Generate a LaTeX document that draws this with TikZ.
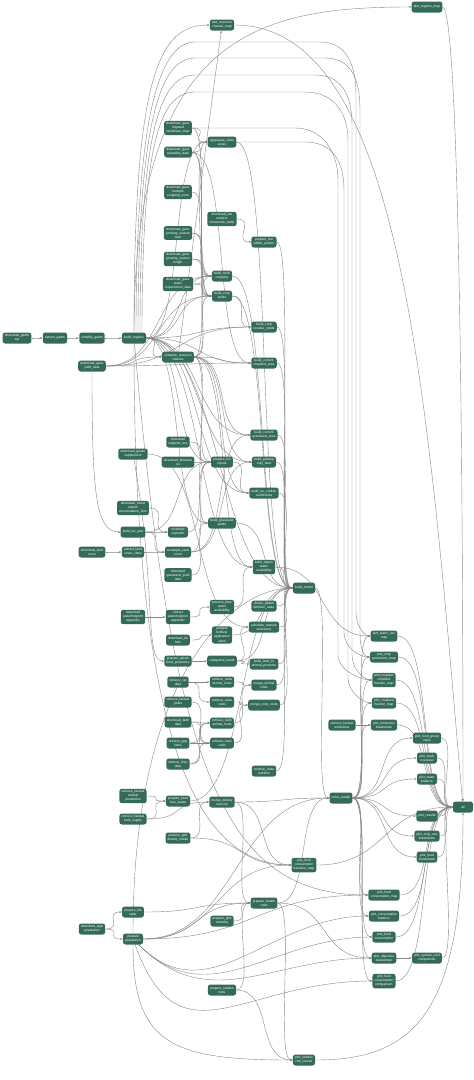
\documentclass[tikz,border=0pt]{standalone}
\usepackage{fontspec}
\setmainfont{Liberation Sans}
\usetikzlibrary{arrows.meta,calc}
\definecolor{ng}{RGB}{52,107,88}
\definecolor{eg}{RGB}{135,135,135}
\pgfdeclarelayer{bg}
\pgfsetlayers{bg,main}
\begin{document}
\begin{tikzpicture}[x=1pt,y=1pt,
  r/.style={rectangle, rounded corners=2.5pt, fill=ng, text=white, font=\fontsize{3.3}{4.1}\selectfont, align=center, inner xsep=2.2pt, inner ysep=1.6pt, minimum height=11pt, minimum width=20pt},
  e/.style={draw=eg, line width=0.4pt, -{Stealth[length=2.6pt,width=2pt]}}]
\useasboundingbox (0,0) rectangle (474,-1080);
\node[r] (A) at (17,-338) {download\_gadm\\zip};
\node[r] (B) at (55,-338) {extract\_gadm};
\node[r] (C) at (92,-338) {simplify\_gadm};
\node[r] (D) at (134,-338) {build\_regions};
\node[r] (E) at (92,-366) {download\_gaez\\yield\_data};
\node[r] (F) at (178,-357) {compute\_resource\\classes};
\node[r] (G) at (222,-25) {plot\_resource\\classes\_map};
\node[r] (H) at (427,-7) {plot\_regions\_map};
\node[r] (I) at (178,-128) {download\_gaez\\irrigated\\landshare\_map};
\node[r] (J) at (222,-142) {aggregate\_class\\areas};
\node[r] (K) at (178,-152) {download\_gaez\\suitability\_data};
\node[r] (L) at (178,-192) {download\_gaez\\multiple\\cropping\_zone};
\node[r] (M) at (222,-219) {download\_fao\\nutrient\\conversion\_table};
\node[r] (N) at (264,-242) {prepare\_fao\\edible\_portion};
\node[r] (O) at (178,-233) {download\_gaez\\growing\_season\\start};
\node[r] (P) at (178,-259) {download\_gaez\\growing\_season\\length};
\node[r] (Q) at (178,-284) {download\_gaez\\water\\requirement\_data};
\node[r] (R) at (222,-276) {build\_multi\\cropping};
\node[r] (S) at (222,-296) {build\_crop\\yields};
\node[r] (T) at (264,-327) {build\_crop\\residue\_yields};
\node[r] (U) at (264,-363) {build\_current\\cropland\_area};
\node[r] (V) at (264,-435) {build\_current\\grassland\_area};
\node[r] (W) at (264,-462) {build\_grazing\\only\_land};
\node[r] (X) at (264,-493) {build\_luc\_carbon\\coefficients};
\node[r] (Y) at (178,-442) {download\\soilgrids\_ocs};
\node[r] (Z) at (178,-462) {download\_biomass\\cci};
\node[r] (AA) at (222,-462) {prepare\_luc\\inputs};
\node[r] (AB) at (133,-454) {download\_gleam\\supplement};
\node[r] (AC) at (133,-508) {download\_forest\\carbon\\accumulation\_1km};
\node[r] (AD) at (133,-532) {build\_luc\_grid};
\node[r] (AE) at (178,-532) {resample\\regrowth};
\node[r] (AF) at (222,-523) {build\_grassland\\yields};
\node[r] (AG) at (92,-552) {download\_land\\cover};
\node[r] (AH) at (133,-552) {extract\_land\\cover\_class};
\node[r] (AI) at (178,-552) {resample\_land\\cover};
\node[r] (AJ) at (178,-575) {download\\grassland\_yield\\data};
\node[r] (AK) at (264,-567) {build\_region\\water\\availability};
\node[r] (AL) at (304,-588) {build\_model};
\node[r] (AM) at (133,-617) {download\\waterfootprint\\appendix};
\node[r] (AN) at (178,-617) {extract\\waterfootprint\\appendix};
\node[r] (AO) at (222,-607) {process\_blue\\water\\availability};
\node[r] (AP) at (264,-606) {derive\_global\\fertilizer\_rates};
\node[r] (AQ) at (178,-640) {download\_ifa\\fubc};
\node[r] (AR) at (222,-635) {prepare\\fertilizer\\application\\rates};
\node[r] (AS) at (264,-627) {calculate\_manure\\emissions};
\node[r] (AT) at (178,-661) {prepare\_gleam\\feed\_properties};
\node[r] (AU) at (222,-661) {categorize\_feeds};
\node[r] (AV) at (264,-664) {build\_feed\_to\\animal\_products};
\node[r] (AW) at (178,-682) {retrieve\_cpi\\data};
\node[r] (AX) at (222,-682) {retrieve\_usda\\animal\_costs};
\node[r] (AY) at (264,-685) {merge\_animal\\costs};
\node[r] (AZ) at (178,-702) {retrieve\_faostat\\yields};
\node[r] (BA) at (222,-702) {retrieve\_usda\\costs};
\node[r] (BB) at (264,-705) {merge\_crop\_costs};
\node[r] (BC) at (178,-722) {download\_fadn\\data};
\node[r] (BD) at (222,-723) {retrieve\_fadn\\animal\_costs};
\node[r] (BE) at (178,-743) {retrieve\_ppp\\rates};
\node[r] (BF) at (222,-743) {retrieve\_fadn\\costs};
\node[r] (BG) at (178,-764) {retrieve\_hicp\\data};
\node[r] (BH) at (264,-771) {retrieve\_usda\\nutrition};
\node[r] (BI) at (133,-796) {retrieve\_faostat\\animal\\production};
\node[r] (BJ) at (178,-801) {prepare\_food\\loss\_waste};
\node[r] (BK) at (222,-802) {merge\_dietary\\sources};
\node[r] (BL) at (133,-819) {retrieve\_faostat\\food\_supply};
\node[r] (BM) at (178,-838) {prepare\_gdd\\dietary\_intake};
\node[r] (BN) at (341,-798) {solve\_model};
\node[r] (BO) at (342,-725) {retrieve\_faostat\\emissions};
\node[r] (BP) at (384,-725) {plot\_emissions\\breakdown};
\node[r] (BQ) at (384,-636) {plot\_water\_use\\map};
\node[r] (BR) at (384,-657) {plot\_crop\\production\_map};
\node[r] (BS) at (384,-680) {plot\_irrigated\\cropland\\fraction\_map};
\node[r] (BT) at (384,-703) {plot\_cropland\\fraction\_map};
\node[r] (BU) at (427,-738) {plot\_food\_group\\slack};
\node[r] (BV) at (427,-758) {plot\_slack\\overview};
\node[r] (BW) at (427,-779) {plot\_water\\balance};
\node[r] (BX) at (463,-807) {all};
\node[r] (BY) at (427,-816) {plot\_results};
\node[r] (BZ) at (427,-836) {plot\_crop\_use\\breakdown};
\node[r] (CA) at (427,-857) {plot\_feed\\breakdown};
\node[r] (CB) at (304,-865) {plot\_food\\consumption\\baseline\_map};
\node[r] (CC) at (264,-903) {prepare\_health\\costs};
\node[r] (CD) at (384,-895) {plot\_food\\consumption\_map};
\node[r] (CE) at (384,-916) {plot\_consumption\\balance};
\node[r] (CF) at (384,-937) {plot\_food\\consumption};
\node[r] (CG) at (384,-958) {plot\_objective\\breakdown};
\node[r] (CH) at (427,-958) {plot\_system\_cost\\comparison};
\node[r] (CI) at (384,-981) {plot\_food\\consumption\\comparison};
\node[r] (CJ) at (222,-921) {prepare\_gbd\\mortality};
\node[r] (CK) at (92,-929) {download\_wpp\\population};
\node[r] (CL) at (133,-912) {prepare\_life\\table};
\node[r] (CM) at (133,-939) {prepare\\population};
\node[r] (CN) at (222,-990) {prepare\_relative\\risks};
\node[r] (CO) at (304,-1060) {plot\_relative\\risk\_curves};
\begin{pgfonlayer}{bg}
\foreach \s/\t in {A/B, B/C, C/D,
 D/F, D/J, D/R, D/S, D/T, D/U, D/V, D/W, D/AF, D/AK, D/AA, D/AL, D/X,
 E/F, E/S, E/R, E/U, E/T,
 F/J, F/R, F/S, F/U, F/V, F/W, F/AF, F/AA, F/AK, F/X,
 I/J, I/S, K/J, K/S, K/R, K/U,
 L/R, O/R, O/S, P/R, P/S, Q/R, Q/S,
 M/N, N/AL, J/AL, R/AL, S/T, S/AL, T/AL, U/AL, V/AL, W/AL, X/AL,
 Y/AA, Z/AA, AE/AA, AI/AA, AI/V, AI/W, AD/AE, AD/AI, AD/AA, AC/AE,
 AA/X, AB/AS, AF/AL, AG/AH, AH/AI, AJ/AF, AK/AL, AK/BQ,
 AM/AN, AN/AO, AO/AK, AQ/AR, AR/AL, AP/AL, AS/AL,
 AT/AU, AU/AV, AU/AS, AU/AL, AV/AL,
 AW/AX, AW/BA, AX/AY, AY/AL, AZ/BF, BA/BB, BB/AL,
 BC/BD, BC/BF, BE/BD, BE/BF, BG/BD, BG/BF, BD/AY, BF/BB,
 BH/AL, BI/BJ, BL/BJ, BL/BK, BM/BK, BM/CB,
 BJ/AL, BK/BN, BK/CB, BK/CC, AL/BN, BO/BP,
 BN/BQ, BN/BR, BN/BS, BN/BT, BN/BP, BN/BU, BN/BV, BN/BW, BN/BY, BN/BZ, BN/CA, BN/CD, BN/CE, BN/CF, BN/CG, BN/CI,
 BQ/BX, BR/BX, BS/BX, BT/BX, BP/BX, BU/BX, BV/BX, BW/BX, BY/BX, BZ/BX, CA/BX, CD/BX, CE/BX, CF/BX, CH/BX, CI/BX, CB/BX,
 CG/CH, CK/CL, CK/CM, CL/CC, CM/CC, CM/CB, CM/CD, CM/BN,
 CJ/CC, CN/CC, CN/CO, CC/BN, CC/CG, CC/CO}{
  \draw[e] let \p1=(\s.center), \p2=(\t.center), \n1={max(0.45*abs(\x2-\x1),6pt)} in (\s) to[out=0,in=180,out distance=\n1,in distance=\n1] (\t);
}
\draw[e] (D) to[out=90,in=180,out distance=300pt,in distance=150pt] (H);
\draw[e] (D) to[out=90,in=180,out distance=260pt,in distance=50pt] (G);
\draw[e] (F) -- (G);
\draw[e] ([xshift=2pt]D.north) to[out=90,in=180,out distance=220pt,in distance=35pt] (195,-42) -- (320,-42) to[out=0,in=90,out distance=28pt,in distance=28pt] (356,-95) -- (356,-612) to[out=-90,in=180,out distance=14pt,in distance=6pt] (BQ.west);
\draw[e] ([xshift=4pt]D.north) to[out=90,in=180,out distance=210pt,in distance=35pt] (195,-58) -- (325,-58) to[out=0,in=90,out distance=28pt,in distance=28pt] (360,-110) -- (360,-634) to[out=-90,in=180,out distance=14pt,in distance=6pt] (BR.west);
\draw[e] ([xshift=6pt]D.north) to[out=90,in=180,out distance=200pt,in distance=35pt] (195,-75) -- (315,-75) to[out=0,in=90,out distance=28pt,in distance=28pt] (352,-125) -- (352,-655) to[out=-90,in=180,out distance=14pt,in distance=8pt] (BS.west);
\draw[e] ([xshift=8pt]D.north) to[out=90,in=180,out distance=190pt,in distance=35pt] (195,-92) -- (305,-92) to[out=0,in=90,out distance=28pt,in distance=28pt] (348,-140) -- (348,-678) to[out=-90,in=180,out distance=14pt,in distance=8pt] (BT.west);
\draw[e] (J) -- (305,-142) to[out=0,in=90,out distance=28pt,in distance=28pt] (344,-190) -- (344,-632) to[out=-90,in=180,out distance=16pt,in distance=10pt] (BR.west);
\draw[e] (I) -- (295,-128) to[out=0,in=90,out distance=28pt,in distance=28pt] (338,-180) -- (338,-655) to[out=-90,in=180,out distance=16pt,in distance=10pt] (BS.west);
\draw[e] (H) to[out=0,in=90,out distance=15pt,in distance=420pt] (BX);
\draw[e] (G) to[out=0,in=95,out distance=170pt,in distance=400pt] (BX);
\draw[e] (E) to[out=-90,in=180,out distance=120pt,in distance=25pt] (AD);
\draw[e] (D) to[out=-90,in=180,out distance=380pt,in distance=100pt] (CB);
\draw[e] (D) to[out=-85,in=180,out distance=440pt,in distance=140pt] (CD);
\draw[e] (CM) to[out=90,in=180,out distance=260pt,in distance=60pt] (AL);
\draw[e] (CM) to[out=-90,in=180,out distance=100pt,in distance=120pt] (CO);
\draw[e] (CM) to[out=-70,in=180,out distance=130pt,in distance=130pt] (CI);
\foreach \t in {CE,CF,CG}{
  \draw[e] (CM) to[out=-45,in=180,out distance=100pt,in distance=100pt] (\t);
}
\draw[e] (AB) to[out=-80,in=180,out distance=130pt,in distance=20pt] (AT);
\draw[e] (CO) to[out=0,in=-90,out distance=100pt,in distance=200pt] (BX);
\end{pgfonlayer}
\end{tikzpicture}
\end{document}
